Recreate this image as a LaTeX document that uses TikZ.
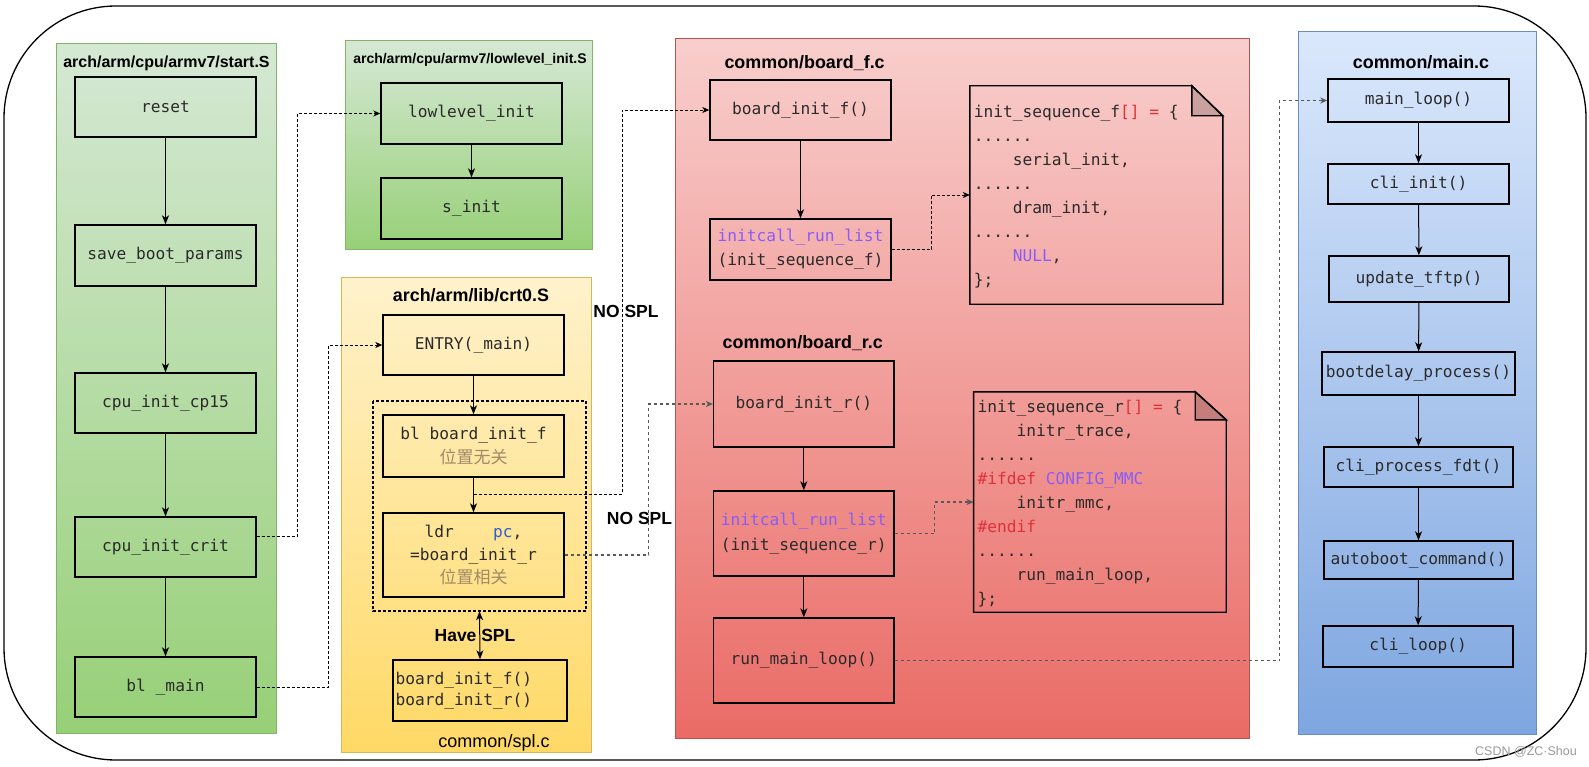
\documentclass[tikz,border=0pt]{standalone}
\usepackage{fontspec}
\setmainfont{Liberation Sans}
\setmonofont{DejaVu Sans Mono}
\newfontfamily\cjk{Noto Sans CJK SC}
\usetikzlibrary{arrows.meta,calc}
\definecolor{gT}{HTML}{D5E8D4}\definecolor{gB}{HTML}{97D077}\definecolor{gS}{HTML}{82B366}
\definecolor{yT}{HTML}{FFF2CC}\definecolor{yB}{HTML}{FFD966}\definecolor{yS}{HTML}{D6B656}
\definecolor{rT}{HTML}{F8CECC}\definecolor{rB}{HTML}{EA6B66}\definecolor{rS}{HTML}{B85450}
\definecolor{bT}{HTML}{DAE8FC}\definecolor{bB}{HTML}{7EA6E0}\definecolor{bS}{HTML}{6C8EBF}
\definecolor{pur}{HTML}{8A5CF5}\definecolor{kred}{HTML}{E0303A}\definecolor{kblue}{HTML}{2F5FD0}
\definecolor{cjkc}{HTML}{A08A68}\definecolor{txt}{HTML}{2B2B2B}
\newcommand\cjkA[1]{{\cjk\fontsize{17}{23}\selectfont\color{cjkc}#1}}
\tikzset{
  fb/.style={draw=black, line width=1.4pt, inner sep=0pt, text=txt, align=center},
  mL/.style={font=\fontsize{16.2}{24}\ttfamily},
  ttl/.style={inner sep=0pt, font=\bfseries\fontsize{16}{16}\selectfont},
  bigttl/.style={inner sep=0pt, font=\bfseries\fontsize{17.9}{18}\selectfont},
  arr/.style={-{Stealth[length=9pt,width=7pt,inset=2.5pt]}, line width=1pt},
  dconn/.style={-{Stealth[length=7pt,width=6pt,inset=2pt]}, line width=0.9pt, dash pattern=on 3pt off 2pt},
  gconn/.style={-{Stealth[length=7pt,width=6pt,inset=2pt]}, draw=black!65, line width=1.3pt, dash pattern=on 3pt off 3pt},
  cont/.style={line width=1pt},
  doctext/.style={anchor=north west, inner sep=0pt, align=left, text=txt, font=\fontsize{16.2}{24}\ttfamily},
}
\begin{document}
\begin{tikzpicture}[x=1pt,y=-1pt]
\useasboundingbox (0,0) rectangle (1589,767);
% outer frame
\draw[line width=1.3pt, rounded corners=112pt] (4,6) rectangle (1586,760);
% containers
\draw[cont, draw=gS, top color=gT, bottom color=gB] (56,44) rectangle (276,733);
\draw[cont, draw=gS, top color=gT, bottom color=gB] (345,41) rectangle (592,250);
\draw[cont, draw=yS, top color=yT, bottom color=yB] (341,277) rectangle (591,752);
\draw[cont, draw=rS, top color=rT, bottom color=rB] (675,39) rectangle (1249,738);
\draw[cont, draw=bS, top color=bT, bottom color=bB] (1298,32) rectangle (1536,734);

% titles
\node[ttl] (t1) at (166.5,63) {arch/arm/cpu/armv7/start.S};
\node[ttl, font=\bfseries\fontsize{14}{14}\selectfont] (t2) at (470,60) {arch/arm/cpu/armv7/lowlevel\_init.S};
\node[bigttl] (t3) at (471,295) {arch/arm/lib/crt0.S};
\node[bigttl] (t4) at (804.6,63) {common/board\_f.c};
\node[bigttl] (t5) at (802.8,343) {common/board\_r.c};
\node[bigttl] (t6) at (1421,62) {common/main.c};
\node[inner sep=0pt, font=\fontsize{18}{18}\selectfont] (t7) at (494,743) {common/spl.c};

% start.S
\node[fb, mL, minimum width=181pt, minimum height=60pt] (reset) at (165.5,107) {reset};
\node[fb, mL, minimum width=181pt, minimum height=61pt] (save) at (165.5,255.5) {save\_boot\_params};
\node[fb, mL, minimum width=181pt, minimum height=60pt] (cp15) at (165.5,403) {cpu\_init\_cp15};
\node[fb, mL, minimum width=181pt, minimum height=60pt] (crit) at (165.5,547) {cpu\_init\_crit};
\node[fb, mL, minimum width=181pt, minimum height=60pt] (blmain) at (165.5,687) {bl \_main};
\draw[arr] (reset) -- (save);
\draw[arr] (save) -- (cp15);
\draw[arr] (cp15) -- (crit);
\draw[arr] (crit) -- (blmain);

% lowlevel_init
\node[fb, mL, minimum width=181pt, minimum height=61pt] (lowinit) at (471.5,113.5) {lowlevel\_init};
\node[fb, mL, minimum width=181pt, minimum height=61pt] (sinit) at (471.5,208.5) {s\_init};
\draw[arr] (lowinit) -- (sinit);

% crt0
\node[fb, mL, minimum width=181pt, minimum height=60pt] (entry) at (473.5,345) {ENTRY(\_main)};
\draw[line width=1.3pt, dash pattern=on 3pt off 2pt] (373,401) rectangle (586,611);
\node[minimum width=213pt, minimum height=210pt, inner sep=0pt] (grp) at (479.5,506) {};
\node[fb, mL, minimum width=181pt, minimum height=62pt] (blf) at (473.5,446) {bl board\_init\_f\\\cjkA{位置无关}};
\node[fb, mL, minimum width=181pt, minimum height=84pt, font=\fontsize{16.2}{23}\ttfamily] (ldr) at (473.5,555) {ldr\phantom{0000}{\color{kblue}pc},\\=board\_init\_r\\\cjkA{位置相关}};
\draw[arr] (entry) -- (blf);
\draw[arr] (blf) -- (ldr);
\node[fb, minimum width=174pt, minimum height=61pt] (spl) at (480,690.5) {};
\node[mL, anchor=west, align=left, inner sep=0pt, text=txt, font=\fontsize{16.2}{21}\ttfamily] (spltxt) at ([xshift=3pt]spl.west) {board\_init\_f()\\board\_init\_r()};
\draw[{Stealth[length=9pt,width=7pt,inset=2.5pt]}-{Stealth[length=9pt,width=7pt,inset=2.5pt]}, line width=1pt] (grp.south) -- (spl.north);
\node[ttl, font=\bfseries\fontsize{17.5}{18}\selectfont] (havespl) at (475,635) {Have SPL};

% NO SPL labels
\node[ttl, font=\bfseries\fontsize{17.5}{18}\selectfont] (nospl1) at (626,311) {NO SPL};
\node[ttl, font=\bfseries\fontsize{17.5}{18}\selectfont] (nospl2) at (639.5,518) {NO SPL};

% board_f
\node[fb, mL, minimum width=181pt, minimum height=60pt] (bif) at (800.5,110) {board\_init\_f()};
\node[fb, mL, minimum width=181pt, minimum height=61pt] (icf) at (800.5,249.5) {{\color{pur}initcall\_run\_list}\\(init\_sequence\_f)};
\draw[arr] (bif) -- (icf);
\node[minimum width=252.6pt, minimum height=218pt, inner sep=0pt] (docf) at (1096.3,195) {};
\draw[line width=1.4pt] (docf.north west) -- ([xshift=-31pt]docf.north east) -- ([yshift=-30pt]docf.north east) -- (docf.south east) -- (docf.south west) -- cycle;
\draw[line width=1.4pt, fill=black, fill opacity=0.18] ([xshift=-31pt]docf.north east) -- ([xshift=-31pt,yshift=-30pt]docf.north east) -- ([yshift=-30pt]docf.north east) -- cycle;
\node[doctext] (docftxt) at (973.7,104.5) {init\_sequence\_f{\color{kred}[] =} \{\\......\\\phantom{0000}serial\_init,\\......\\\phantom{0000}dram\_init,\\......\\\phantom{0000}{\color{pur}NULL},\\\};};

% board_r
\node[fb, mL, minimum width=180.4pt, minimum height=86pt] (bir) at (803.8,404) {board\_init\_r()};
\node[fb, mL, minimum width=180.4pt, minimum height=85pt, font=\fontsize{16.2}{25}\ttfamily] (icr) at (803.8,533.5) {{\color{pur}initcall\_run\_list}\\(init\_sequence\_r)};
\node[fb, mL, minimum width=180.4pt, minimum height=85pt] (rml) at (803.8,660.5) {run\_main\_loop()};
\draw[arr] (bir) -- (icr);
\draw[arr] (icr) -- (rml);
\node[minimum width=252.3pt, minimum height=220pt, inner sep=0pt] (docr) at (1099.9,502) {};
\draw[line width=1.4pt] (docr.north west) -- ([xshift=-31pt]docr.north east) -- ([yshift=-28pt]docr.north east) -- (docr.south east) -- (docr.south west) -- cycle;
\draw[line width=1.4pt, fill=black, fill opacity=0.18] ([xshift=-31pt]docr.north east) -- ([xshift=-31pt,yshift=-28pt]docr.north east) -- ([yshift=-28pt]docr.north east) -- cycle;
\node[doctext] (docrtxt) at (977.4,399.5) {init\_sequence\_r{\color{kred}[] =} \{\\\phantom{0000}initr\_trace,\\......\\{\color{kred}\#ifdef} {\color{pur}CONFIG\_MMC}\\\phantom{0000}initr\_mmc,\\{\color{kred}\#endif}\\......\\\phantom{0000}run\_main\_loop,\\\};};

% main.c
\node[fb, mL, minimum width=181pt, minimum height=43pt] (mainloop) at (1418.5,100.5) {main\_loop()};
\node[fb, mL, minimum width=181pt, minimum height=40pt] (cliinit) at (1418.5,184) {cli\_init()};
\node[fb, mL, minimum width=180pt, minimum height=46pt] (tftp) at (1419,279) {update\_tftp()};
\node[fb, mL, minimum width=193pt, minimum height=43pt] (bootdelay) at (1418.5,373.5) {bootdelay\_process()};
\node[fb, mL, minimum width=189pt, minimum height=40pt] (fdt) at (1418.5,467) {cli\_process\_fdt()};
\node[fb, mL, minimum width=189pt, minimum height=38pt] (autoboot) at (1418.5,560) {autoboot\_command()};
\node[fb, mL, minimum width=190pt, minimum height=41pt] (cliloop) at (1418,646.5) {cli\_loop()};
\draw[arr] (mainloop) -- (cliinit);
\draw[arr] (cliinit) -- (tftp);
\draw[arr] (tftp) -- (bootdelay);
\draw[arr] (bootdelay) -- (fdt);
\draw[arr] (fdt) -- (autoboot);
\draw[arr] (autoboot) -- (cliloop);

% dashed connectors
\draw[dconn] ([yshift=11pt]crit.east) -- ++(41,0) |- (lowinit.west);
\draw[dconn] (blmain.east) -- ++(72,0) |- (entry.west);
\coordinate (nosplpt) at ($(blf.south)!0.47!(ldr.north)$);
\draw[dconn] (nosplpt) -- ++(148.5,0) |- (bif.west);
\draw[gconn] (ldr.east) -- ++(84,0) |- (bir.west);
\draw[dconn] (icf.east) -- ++(40,0) |- (docf.west);
\draw[gconn] (icr.east) -- ++(40,0) |- (docr.west);
\draw[gconn] (rml.east) -- ++(385,0) |- (mainloop.west);

% watermark
\node[inner sep=0pt, font=\fontsize{12.5}{13}\selectfont, text=black!40] (wm) at (1526,752) {CSDN @ZC·Shou};
\end{tikzpicture}
\end{document}
